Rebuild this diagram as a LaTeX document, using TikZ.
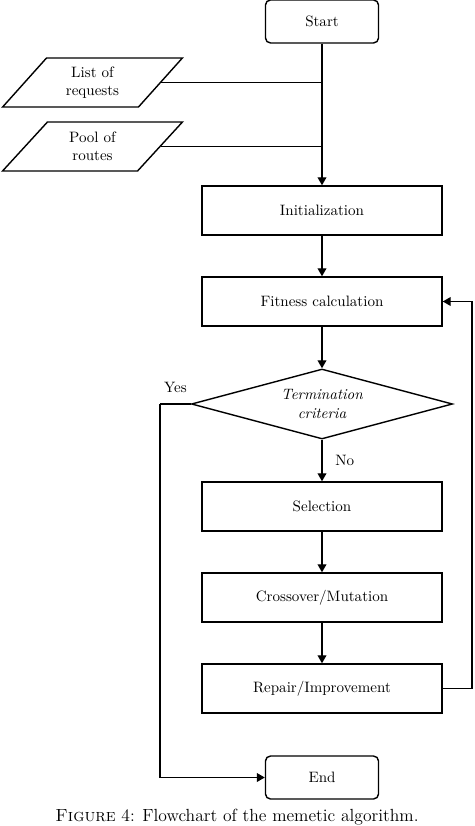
\documentclass[tikz,border=0pt]{standalone}
\usetikzlibrary{positioning, shapes.geometric, arrows.meta}

\begin{document}
\begin{tikzpicture}[x=0.025cm, y=-0.025cm,
  every node/.style={font=\fontsize{10.7}{13}\selectfont, align=center},
  terminal/.style={draw, rounded corners=0.125cm, minimum width=2.825cm, minimum height=1.075cm, line width=1pt},
  process/.style={draw, minimum width=6cm, minimum height=1.225cm, line width=1pt},
  data/.style={draw, trapezium, trapezium left angle=54, trapezium right angle=126,
    trapezium stretches=true, minimum width=4.525cm, minimum height=1.225cm, line width=1pt},
  decision/.style={draw, diamond, aspect=3.73, minimum width=6.525cm, minimum height=1.75cm,
    inner sep=0pt, line width=1pt},
  flow/.style={line width=1pt, -{Triangle[length=0.2cm, width=0.22cm]}},
  link/.style={line width=1pt}]

\useasboundingbox (0,0) rectangle (474,826);

% nodes
\node[terminal] (start) at (322,21.5) {Start};
\node[data] (list) at (92.5,82.5) {List of\\requests};
\node[data] (pool) at (92.5,146.5) {Pool of\\routes};
\node[process] (init) at (322,210.5) {Initialization};
\node[process] (fit) at (322,301.5) {Fitness calculation};
\node[decision] (term) at (322,404) {\itshape Termination\\\itshape criteria};
\node[process] (sel) at (322,506.5) {Selection};
\node[process] (cross) at (322,597.5) {Crossover/Mutation};
\node[process] (rep) at (322,688.5) {Repair/Improvement};
\node[terminal] (end) at (322,777.5) {End};

\coordinate (yesturn) at (160,404);
\coordinate (loop) at (472,0);

% connectors
\draw[flow] (start) -- (init);
\draw[link] (list.east) -- (list.east -| start);
\draw[link] (pool.east) -- (pool.east -| start);
\draw[flow] (init) -- (fit);
\draw[flow] (fit) -- (term);
\draw[flow] (term) -- node[right, xshift=0.2cm] {No} (sel);
\draw[flow] (sel) -- (cross);
\draw[flow] (cross) -- (rep);
\draw[flow] (rep.east) -- (rep.east -| loop) |- (fit.east);
\draw[link] (term.west) -- node[above=0.15cm] {Yes} (yesturn);
\draw[flow] (yesturn) |- (end.west);

\node[anchor=base, font=\fontsize{12.5}{15}\selectfont] (caption) at (237,821)
  {\textsc{Figure} 4: Flowchart of the memetic algorithm.};

\end{tikzpicture}
\end{document}
